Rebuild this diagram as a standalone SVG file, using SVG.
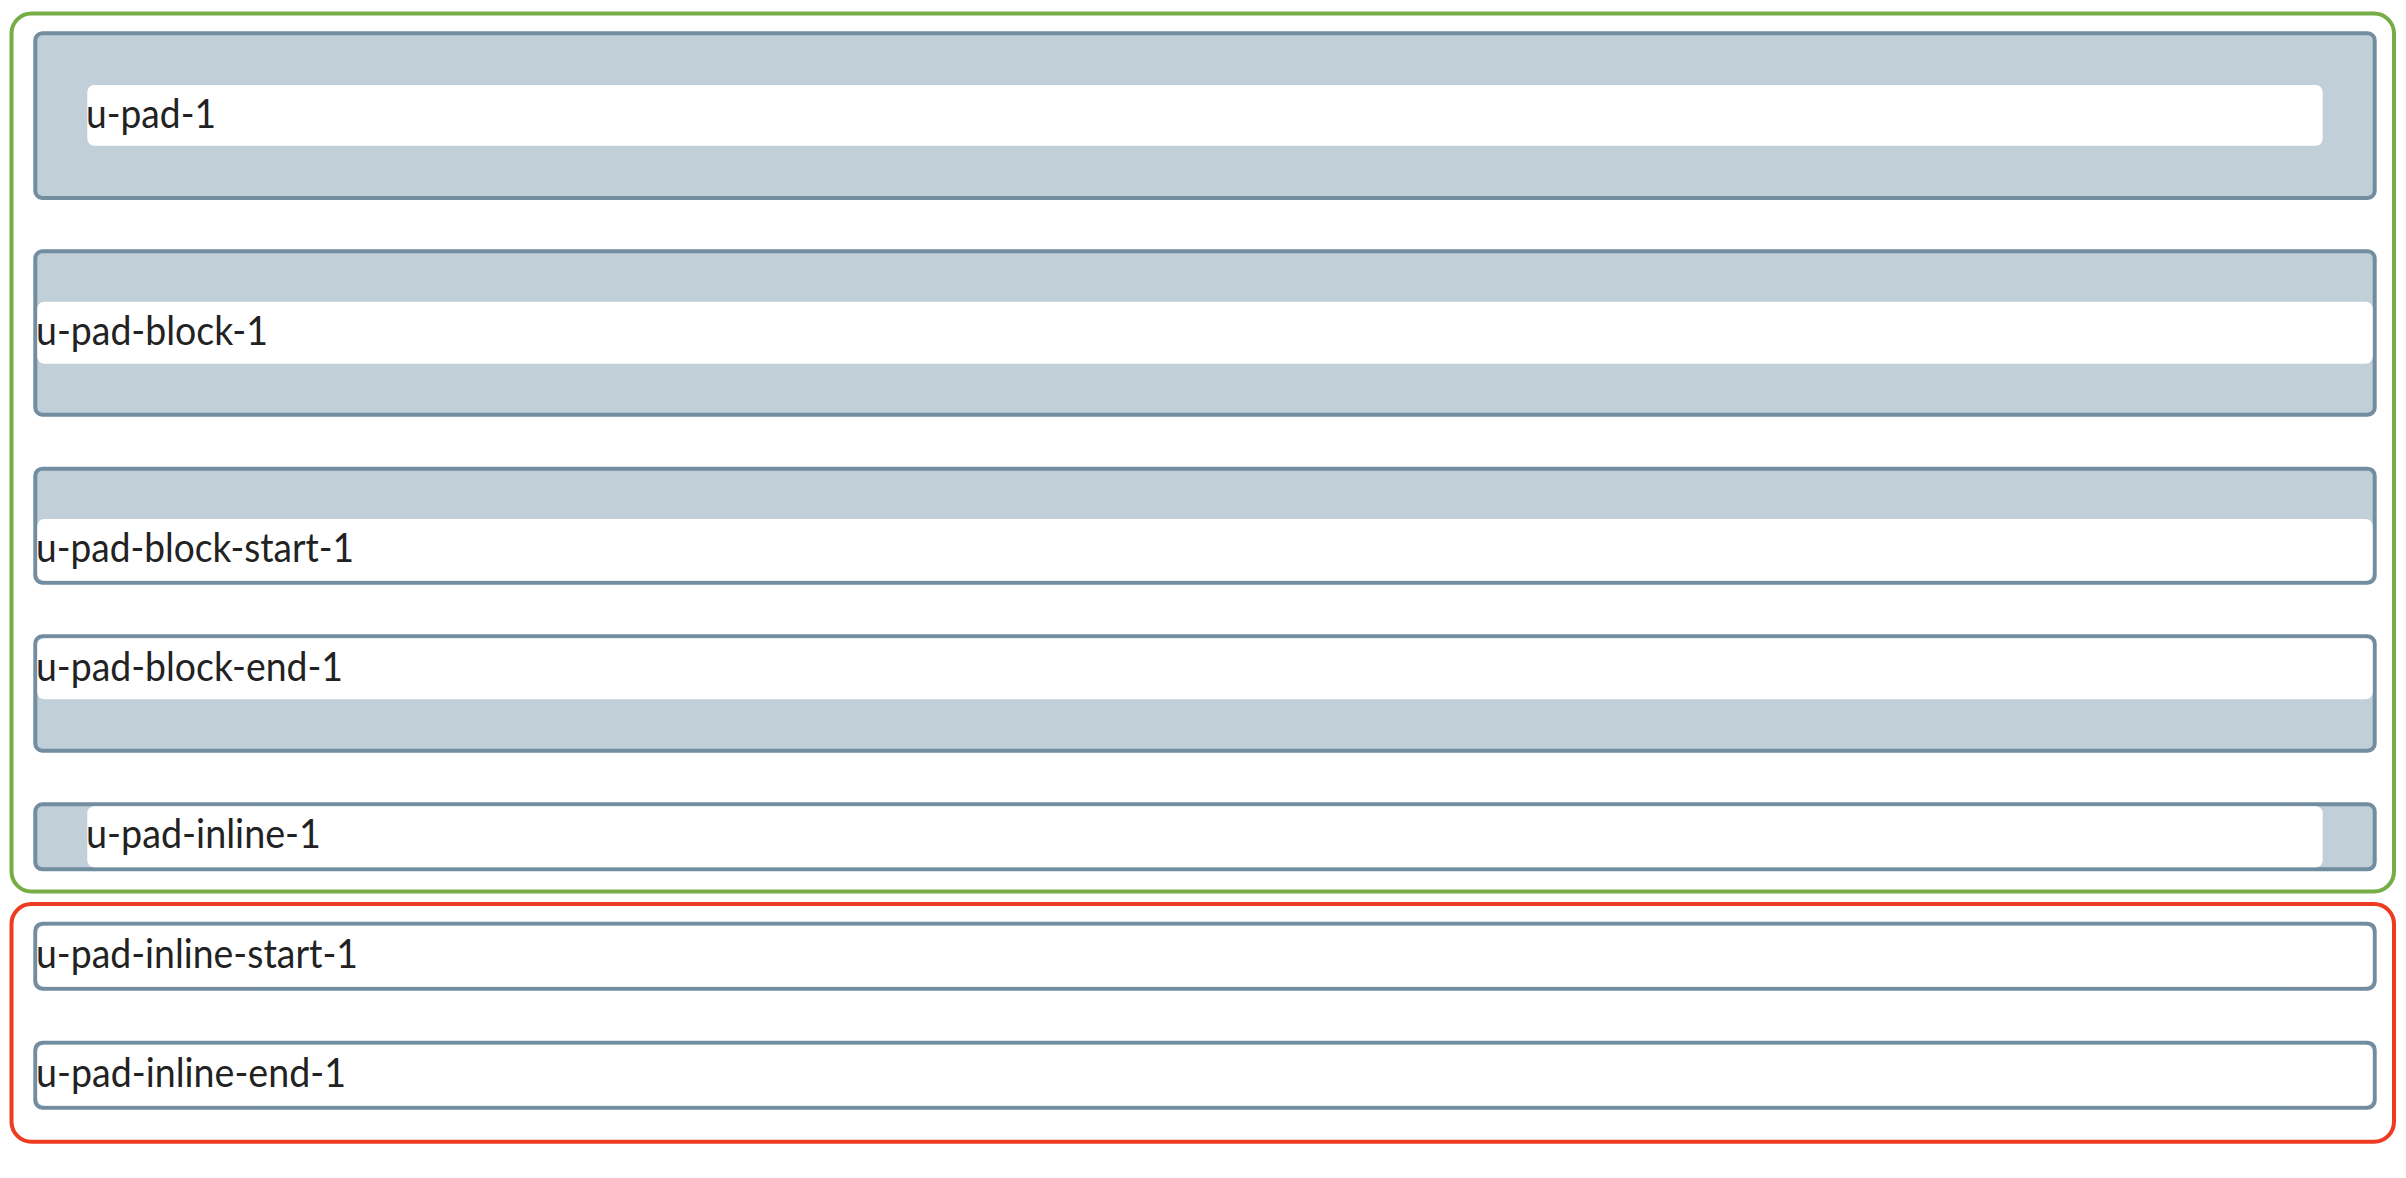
<svg xmlns="http://www.w3.org/2000/svg" width="2406" height="1178" viewBox="0 0 2406 1178">
<style>
.frame{fill:none;stroke-width:4}
.box{fill:#C1CFD8;stroke:#728CA0;stroke-width:4}
.content{fill:#FFFFFF}
.label{font-family:Lato,"Liberation Sans",sans-serif;font-size:40px;fill:#222222}
</style>
<rect width="2406" height="1178" fill="#FFFFFF"/>
<g id="group-supported">
<rect class="frame" x="11.5" y="13.5" width="2382.5" height="878" rx="20" stroke="#77AD47"/>
</g>
<g id="group-unsupported">
<rect class="frame" x="11.5" y="904" width="2382.5" height="237.7" rx="20" stroke="#EE3B22"/>
</g>
<g id="node-u-pad-1">
<rect class="box" x="35.3" y="33.3" width="2339.4" height="164.7" rx="7"/>
<rect class="content" x="87.3" y="85" width="2235.4" height="60.7" rx="7"/>
<text class="label" x="86" y="128.3" textLength="130" lengthAdjust="spacingAndGlyphs">u-pad-1</text>
</g>
<g id="node-u-pad-block-1">
<rect class="box" x="35.3" y="251.3" width="2339.4" height="163.4" rx="7"/>
<rect class="content" x="37.3" y="301.7" width="2335.4" height="62" rx="7"/>
<text class="label" x="36" y="345" textLength="232" lengthAdjust="spacingAndGlyphs">u-pad-block-1</text>
</g>
<g id="node-u-pad-block-start-1">
<rect class="box" x="35.3" y="468.7" width="2339.4" height="114" rx="7"/>
<rect class="content" x="37.3" y="519" width="2335.4" height="61.7" rx="7"/>
<text class="label" x="36" y="561.7" textLength="318" lengthAdjust="spacingAndGlyphs">u-pad-block-start-1</text>
</g>
<g id="node-u-pad-block-end-1">
<rect class="box" x="35.3" y="636.3" width="2339.4" height="114.4" rx="7"/>
<rect class="content" x="37.3" y="638.3" width="2335.4" height="61" rx="7"/>
<text class="label" x="36" y="680.7" textLength="307" lengthAdjust="spacingAndGlyphs">u-pad-block-end-1</text>
</g>
<g id="node-u-pad-inline-1">
<rect class="box" x="35.3" y="804.3" width="2339.4" height="65" rx="7"/>
<rect class="content" x="87.3" y="806.3" width="2235.4" height="61" rx="7"/>
<text class="label" x="86" y="848.3" textLength="235" lengthAdjust="spacingAndGlyphs">u-pad-inline-1</text>
</g>
<g id="node-u-pad-inline-start-1">
<rect class="box" x="35.3" y="923.7" width="2339.4" height="65" rx="7"/>
<rect class="content" x="37.3" y="925.7" width="2335.4" height="61" rx="7"/>
<text class="label" x="36" y="967.5" textLength="322" lengthAdjust="spacingAndGlyphs">u-pad-inline-start-1</text>
</g>
<g id="node-u-pad-inline-end-1">
<rect class="box" x="35.3" y="1042.7" width="2339.4" height="65" rx="7"/>
<rect class="content" x="37.3" y="1044.7" width="2335.4" height="61" rx="7"/>
<text class="label" x="36" y="1086.7" textLength="310" lengthAdjust="spacingAndGlyphs">u-pad-inline-end-1</text>
</g>
<g id="connectors"></g>
</svg>
